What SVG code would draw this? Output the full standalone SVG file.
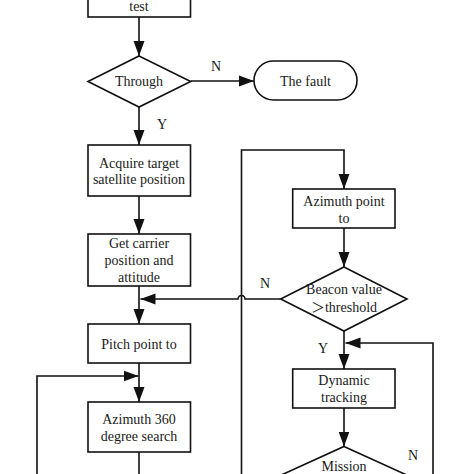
<svg xmlns="http://www.w3.org/2000/svg" width="474" height="474" viewBox="0 0 474 474">
<style>
.n{fill:#fff;stroke:#111;stroke-width:1.6}
.c{fill:none;stroke:#111;stroke-width:1.6}
text{font-family:"Liberation Serif","Noto Sans CJK SC",serif;font-size:14px;fill:#1a1a1a;text-anchor:middle}
</style>
<defs>
<marker id="ah" markerUnits="userSpaceOnUse" markerWidth="16" markerHeight="12" viewBox="0 0 16 12" refX="15" refY="6" orient="auto">
<path d="M0,0.5 L15,6 L0,11.5 Z" fill="#111"/>
</marker>
</defs>
<rect width="474" height="474" fill="#fff"/>
<g id="connectors">
<path class="c" d="M139,17 V56" marker-end="url(#ah)"/>
<path class="c" d="M190.7,81 H254" marker-end="url(#ah)"/>
<path class="c" d="M139,107 V145" marker-end="url(#ah)"/>
<path class="c" d="M139,196 V234" marker-end="url(#ah)"/>
<path class="c" d="M139,286 V324" marker-end="url(#ah)"/>
<path class="c" d="M280.7,299 H245 A3.5,3.5 0 0 0 238,299 H140.5" marker-end="url(#ah)"/>
<path class="c" d="M139,363 V402" marker-end="url(#ah)"/>
<path class="c" d="M37,480 V376 H138.5" marker-end="url(#ah)"/>
<path class="c" d="M139,452 V480"/>
<path class="c" d="M241.5,480 V150 H344 V189" marker-end="url(#ah)"/>
<path class="c" d="M344,228 V267" marker-end="url(#ah)"/>
<path class="c" d="M344,331 V369" marker-end="url(#ah)"/>
<path class="c" d="M433,480 V343 H345.5" marker-end="url(#ah)"/>
<path class="c" d="M344,408 V446.5" marker-end="url(#ah)"/>
</g>
<g id="labels">
<text x="216" y="71">N</text>
<text x="162" y="129">Y</text>
<text x="265" y="288">N</text>
<text x="323" y="352.5">Y</text>
<text x="413" y="460">N</text>
</g>
<g id="test"><rect class="n" x="88" y="-34" width="102.5" height="51"/><text x="139" y="11">test</text></g>
<g id="through"><polygon class="n" points="139,56 190.7,81.5 139,107 88,81.5"/><text x="139" y="86">Through</text></g>
<g id="fault"><rect class="n" x="254" y="61" width="103" height="39" rx="19.5"/><text x="305.5" y="85.5">The fault</text></g>
<g id="acquire"><rect class="n" x="88" y="145" width="102.5" height="51"/><text x="139" y="167.5">Acquire target</text><text x="139" y="184">satellite position</text></g>
<g id="carrier"><rect class="n" x="88" y="234" width="102.5" height="52"/><text x="139" y="248">Get carrier</text><text x="139" y="265">position and</text><text x="139" y="281.5">attitude</text></g>
<g id="azpoint"><rect class="n" x="292.7" y="189" width="102.3" height="39"/><text x="344" y="205.5">Azimuth point</text><text x="344" y="222.5">to</text></g>
<g id="beacon"><polygon class="n" points="344,267 407,299 344,331 280.7,299"/><text x="344" y="294">Beacon value</text><text x="344" y="312">＞threshold</text></g>
<g id="pitch"><rect class="n" x="88" y="324" width="102.5" height="39"/><text x="139" y="348.5">Pitch point to</text></g>
<g id="az360"><rect class="n" x="88" y="402" width="102.5" height="50"/><text x="139" y="424">Azimuth 360</text><text x="139" y="441">degree search</text></g>
<g id="dynamic"><rect class="n" x="292.7" y="369" width="102.3" height="39"/><text x="344" y="385">Dynamic</text><text x="344" y="402">tracking</text></g>
<g id="mission"><polygon class="n" points="344,446.5 410,476.5 344,506.5 278,476.5"/><text x="344" y="470.5">Mission</text></g>
</svg>
